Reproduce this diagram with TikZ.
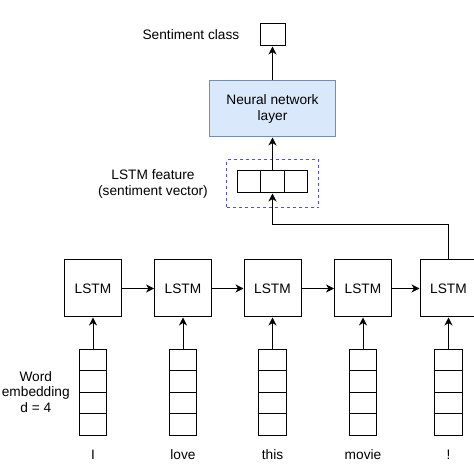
\documentclass[tikz,border=0pt]{standalone}
\usepackage{fontspec}
\setmainfont{Liberation Sans}
\usetikzlibrary{positioning, arrows.meta, shapes.multipart}
\definecolor{nnfill}{HTML}{DAE8FC}
\definecolor{nndraw}{HTML}{6C8EBF}
\definecolor{featblue}{RGB}{80,80,230}

\begin{document}
\begin{tikzpicture}[
    x=1pt, y=1pt,
    font=\fontsize{13.7}{15.5}\selectfont,
    box/.style={rectangle, draw=black, line width=1pt, minimum width=57pt, minimum height=57pt},
    emb/.style={rectangle split, rectangle split parts=4, draw=black, line width=1pt, inner sep=0pt,
        rectangle split empty part height=20.5pt, rectangle split empty part depth=0pt,
        rectangle split empty part width=22pt},
    vec/.style={rectangle split, rectangle split horizontal, rectangle split parts=3, draw=black, line width=1pt, inner sep=0pt,
        rectangle split empty part height=22pt, rectangle split empty part depth=0pt,
        rectangle split empty part width=17.3pt},
    dashbox/.style={rectangle, draw=featblue, line width=1pt, dash pattern=on 3pt off 3pt},
    nnbox/.style={rectangle, draw=nndraw, fill=nnfill, line width=1pt, align=center, minimum width=126pt, minimum height=56pt},
    word/.style={anchor=base},
    arrow/.style={-{Stealth[length=8pt, width=8pt, inset=2.5pt]}, line width=1pt}
]
    \useasboundingbox (0,0) rectangle (474,469);

    % LSTM cells
    \node[box] (lstm1) at (93,180.5) {LSTM};
    \node[box, right=32pt of lstm1] (lstm2) {LSTM};
    \node[box, right=31.5pt of lstm2] (lstm3) {LSTM};
    \node[box, right=32.5pt of lstm3] (lstm4) {LSTM};
    \node[box, right=27.5pt of lstm4] (lstm5) {LSTM};

    % Word embeddings
    \node[emb, below=31pt of lstm1] (emb1) {};
    \node[emb, below=31pt of lstm2] (emb2) {};
    \node[emb, below=31pt of lstm3] (emb3) {};
    \node[emb, below=31pt of lstm4] (emb4) {};
    \node[emb, below=31pt of lstm5] (emb5) {};
    \node[left=9pt of emb1, align=center, inner sep=0pt] (emblabel) {Word\\embedding\\d = 4};

    % Words
    \node[below=24pt of emb1, word] (w1) {I};
    \node[below=24pt of emb2, word] (w2) {love};
    \node[below=24pt of emb3, word] (w3) {this};
    \node[below=24pt of emb4, word] (w4) {movie};
    \node[below=24pt of emb5, word] (w5) {!};

    % LSTM feature
    \node[vec, above=66pt of lstm3] (vec) {};
    \node[dashbox, minimum width=92pt, minimum height=48pt] (feat) at ([yshift=-2pt]vec.center) {};
    \node[left=18pt of feat, align=center, inner sep=0pt] (featlabel) {LSTM feature\\(sentiment vector)};

    % Neural network layer
    \node[nnbox, above=33pt of vec] (nn) {Neural network\\layer};

    % Sentiment class
    \node[rectangle, draw=black, line width=1pt, minimum width=25pt, minimum height=22pt, above=34pt of nn] (cls) {};
    \node[left=20pt of cls, inner sep=0pt] (clslabel) {Sentiment class};

    % Arrows
    \draw[arrow] (lstm1) -- (lstm2);
    \draw[arrow] (lstm2) -- (lstm3);
    \draw[arrow] (lstm3) -- (lstm4);
    \draw[arrow] (lstm4) -- (lstm5);
    \draw[arrow] (emb1) -- (lstm1);
    \draw[arrow] (emb2) -- (lstm2);
    \draw[arrow] (emb3) -- (lstm3);
    \draw[arrow] (emb4) -- (lstm4);
    \draw[arrow] (emb5) -- (lstm5);
    \draw[arrow] (lstm5.north) -- ++(0,35pt) -| (vec.south);
    \draw[arrow] (vec) -- (nn);
    \draw[arrow] (nn) -- (cls);

\end{tikzpicture}
\end{document}
